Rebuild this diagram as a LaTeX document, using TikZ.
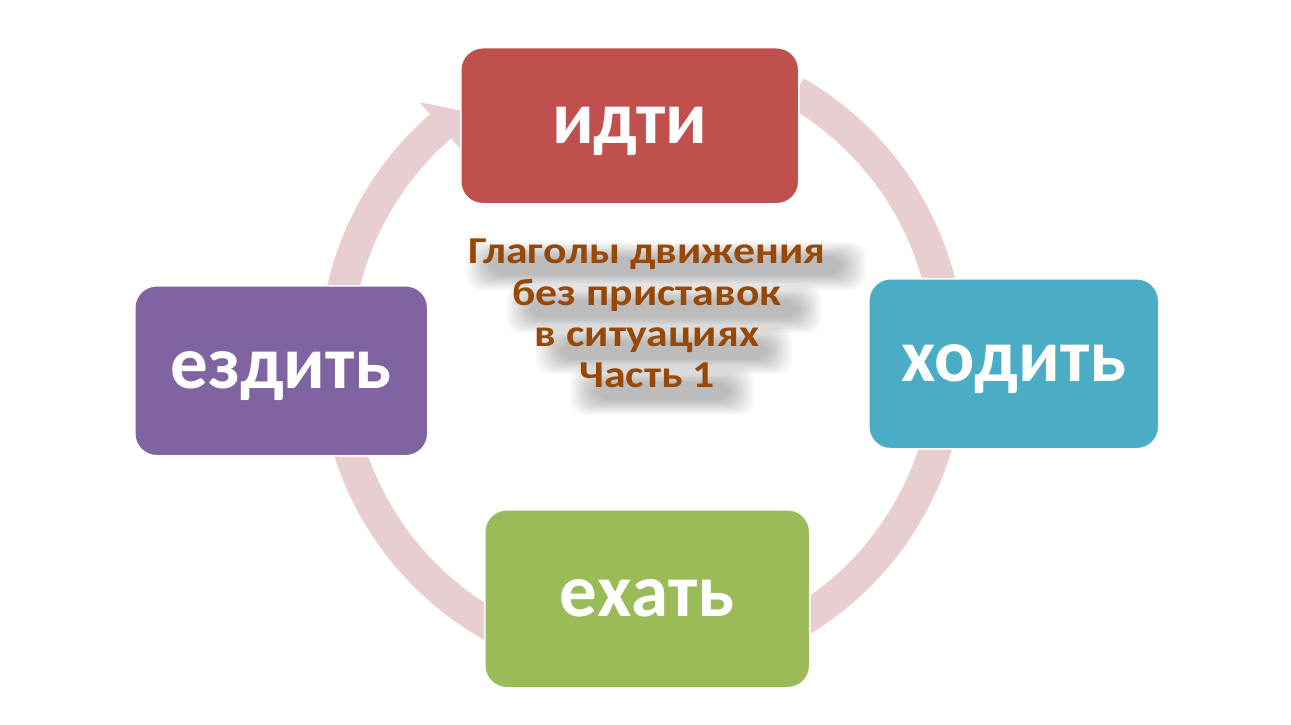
\documentclass[tikz,border=0pt]{standalone}
\usepackage{fontspec}
\setmainfont{Carlito}
\usetikzlibrary{calc}
\definecolor{boxred}{RGB}{192,80,77}
\definecolor{boxblue}{RGB}{75,172,198}
\definecolor{boxgreen}{RGB}{155,187,89}
\definecolor{boxpurple}{RGB}{128,100,162}
\definecolor{ringpink}{RGB}{232,206,208}
\definecolor{titlebrown}{RGB}{152,72,6}
\newcommand{\softband}[4]{% center x, center y, half width, half height
  \foreach \k in {0,...,11} {
    \fill[black, opacity=0.024, rounded corners=14pt]
      (#1-#3+\k*2.2,#2-#4+\k*1.4) rectangle (#1+#3-\k*2.2,#2+#4-\k*1.4);
  }}
\newcommand{\wideline}[1]{\scalebox{1.15}[1]{#1}}
\begin{document}
\begin{tikzpicture}[x=1pt,y=-1pt,
  verb/.style={rectangle, rounded corners=22pt, draw=white, line width=1.5pt,
    text=white, font=\fontsize{75}{80}\selectfont\bfseries,
    text height=35pt, text depth=0pt, inner sep=0pt, anchor=north west},
  ring/.style={draw=ringpink, line width=32pt},
  titleline/.style={text=titlebrown, font=\fontsize{38}{42}\selectfont\bfseries, anchor=base, inner sep=0pt}
]
\useasboundingbox[fill=white] (0,0) rectangle (1291,725);
\coordinate (c) at (642,358);
% cycle ring
\draw[ring] ($(c)+(-60:307)$) arc[start angle=-60, end angle=229, radius=307];
\fill[ringpink] ($(c)+(229:339)$) coordinate (barbo) -- ($(c)+(235:300)$) coordinate (tip) -- ($(c)+(229:275)$) coordinate (barbi) -- cycle;
% soft shadow of the title
\softband{666}{266}{200}{24}
\softband{664}{309}{158}{24}
\softband{664}{350}{128}{24}
\softband{662}{391}{92}{24}
% title
\node[titleline] (t1) at (647,263) {\wideline{Глаголы движения}};
\node[titleline] (t2) at (647,305) {\wideline{без приставок}};
\node[titleline] (t3) at (647,346) {\wideline{в ситуациях}};
\node[titleline] (t4) at (647,387) {\wideline{Часть 1}};
% boxes
\node[verb, fill=boxred, minimum width=338pt, minimum height=156pt] (idti) at (460,47) {идти};
\node[verb, fill=boxblue, minimum width=290pt, minimum height=170pt] (hodit) at (868,278) {ходить};
\node[verb, fill=boxgreen, minimum width=325pt, minimum height=178pt] (ehat) at (484,509) {ехать};
\node[verb, fill=boxpurple, minimum width=293pt, minimum height=170pt] (ezdit) at (134,285) {ездить};
\end{tikzpicture}
\end{document}
